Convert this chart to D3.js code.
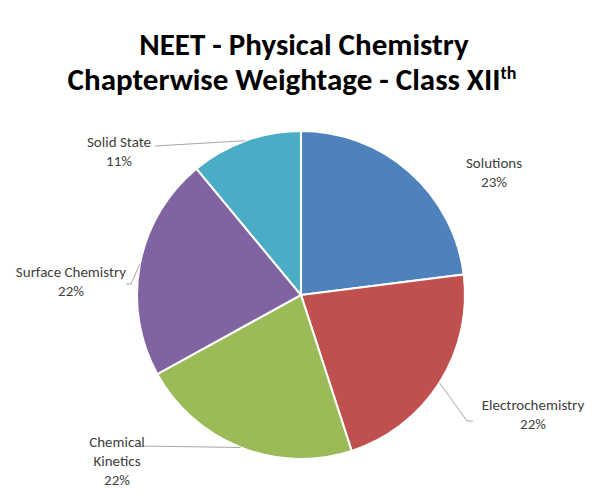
<!DOCTYPE html>
<html>
<head>
<meta charset="utf-8">
<script src="https://cdn.jsdelivr.net/npm/d3@7"></script>
<style>
  body { margin: 0; background: #fff; }
  svg { display: block; font-family: Carlito, Calibri, Lato, sans-serif; }
</style>
</head>
<body>
<div id="chart"></div>
<script>
// data
var chapters = ["Solutions", "Electrochemistry", "Chemical Kinetics", "Surface Chemistry", "Solid State"];
var weightage = [23, 22, 22, 22, 11];
var sliceColors = ["#4F81BD", "#C0504D", "#9BBB59", "#8064A2", "#4BACC6"];

// label placement (text block centre x, first baseline y, leader elbow/end)
var labelLayout = [
  {x: 494, y: 168, lines: ["Solutions"], leader: null},
  {x: 533, y: 410, lines: ["Electrochemistry"], leader: [[467, 421], [473, 421]]},
  {x: 117, y: 447, lines: ["Chemical", "Kinetics"], leader: [[137, 446]]},
  {x: 71,  y: 277, lines: ["Surface Chemistry"], leader: [[131, 284], [126, 284]]},
  {x: 119, y: 147, lines: ["Solid State"], leader: [[155, 146]]}
];

var width = 602, height = 502,
    cx = 301, cy = 295, radius = 164;

var svg = d3.select("#chart")
    .append("svg")
    .attr("width", width)
    .attr("height", height);

// title
var title = svg.append("text")
    .attr("text-anchor", "middle")
    .attr("font-weight", "bold")
    .attr("font-size", 31)
    .attr("fill", "#000");
title.append("tspan").attr("x", 304).attr("y", 55).text("NEET - Physical Chemistry");
title.append("tspan").attr("x", 292).attr("y", 90).text("Chapterwise Weightage - Class XII");
title.append("tspan").attr("dy", -11).attr("font-size", 18).text("th");

var pie = d3.pie().sort(null).value(function(d) { return d; });
var arcs = pie(weightage);

var arc = d3.arc().innerRadius(0).outerRadius(radius);
var edgeArc = d3.arc().innerRadius(radius).outerRadius(radius);

var g = svg.append("g")
    .attr("transform", "translate(" + cx + "," + cy + ")");

g.selectAll("path.slice")
    .data(arcs)
    .enter()
    .append("path")
    .attr("class", "slice")
    .attr("d", arc)
    .attr("fill", function(d, i) { return sliceColors[i]; })
    .attr("stroke", "#fff")
    .attr("stroke-width", 2);

// leader lines
var line = d3.line();
arcs.forEach(function(d, i) {
    var lay = labelLayout[i];
    if (!lay.leader) return;
    var c = edgeArc.centroid(d);
    var pts = [[cx + c[0], cy + c[1]]].concat(lay.leader);
    svg.append("path")
        .attr("d", line(pts))
        .attr("fill", "none")
        .attr("stroke", "#A6A6A6")
        .attr("stroke-width", 1);
});

// labels
arcs.forEach(function(d, i) {
    var lay = labelLayout[i];
    var lines = lay.lines.concat([Math.round(weightage[i] / d3.sum(weightage) * 100) + "%"]);
    var t = svg.append("text")
        .attr("text-anchor", "middle")
        .attr("font-size", 15)
        .attr("fill", "#404040");
    lines.forEach(function(s, k) {
        t.append("tspan")
            .attr("x", lay.x)
            .attr("y", lay.y + k * 19)
            .text(s);
    });
});
</script>
</body>
</html>
